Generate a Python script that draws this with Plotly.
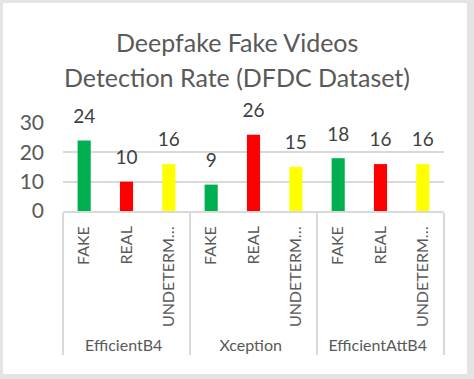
import plotly.graph_objects as go

models = ["EfficientB4", "Xception", "EfficientAttB4"]
classes = ["FAKE", "REAL", "UNDETERM…"]
fake_vals = [24, 9, 18]
real_vals = [10, 26, 16]
undet_vals = [16, 15, 16]
class_colors = ["#00B050", "#FF0000", "#FFFF00"]
y_ticks = [0, 10, 20, 30]
title_lines = ["Deepfake Fake Videos", "Detection Rate (DFDC Dataset)"]

x_outer, x_inner, vals, cols = [], [], [], []
for i, m in enumerate(models):
    for c, series, col in zip(classes, [fake_vals, real_vals, undet_vals], class_colors):
        x_outer.append(m)
        x_inner.append(c)
        vals.append(series[i])
        cols.append(col)

W, H = 474, 379
ml, mr, mt, mb = 63, 30, 123, 168
pw, ph = W - ml - mr, H - mt - mb

FONT = "Lato"
TXT = "#595959"

fig = go.Figure()
fig.add_trace(go.Bar(
    x=[x_outer, x_inner], y=vals, marker=dict(color=cols, line=dict(width=0)),
    width=0.31, hoverinfo="skip", showlegend=False,
))
fig.add_trace(go.Scatter(
    x=[x_outer, x_inner], y=vals, mode="markers+text",
    text=[str(v) for v in vals], textposition="top center",
    textfont=dict(family=FONT, size=19, color="#404040"),
    marker=dict(size=19, color="rgba(0,0,0,0)"),
    cliponaxis=False, hoverinfo="skip", showlegend=False,
))

def px_x(p):
    return (p - ml) / pw

def px_y(p):
    return (H - mb - p) / ph

shapes = [dict(type="rect", xref="paper", yref="paper", layer="below",
               x0=px_x(3), x1=px_x(467), y0=px_y(374), y1=px_y(3),
               fillcolor="white", line=dict(width=0))]

annotations = [
    dict(text=title_lines[0], xref="paper", yref="paper", x=px_x(237), y=px_y(42),
         showarrow=False, font=dict(family=FONT, size=25, color=TXT), xanchor="center", yanchor="middle"),
    dict(text=title_lines[1], xref="paper", yref="paper", x=px_x(237), y=px_y(77),
         showarrow=False, font=dict(family=FONT, size=25, color=TXT), xanchor="center", yanchor="middle"),
]

fig.update_layout(
    width=W, height=H, margin=dict(l=ml, r=mr, t=mt, b=mb, autoexpand=False),
    paper_bgcolor="#e4e4e4", plot_bgcolor="rgba(0,0,0,0)",
    shapes=shapes, annotations=annotations, bargap=0.69,
    font=dict(family=FONT, color=TXT),
)
fig.update_xaxes(
    type="multicategory", range=[-0.5, len(vals) - 0.5], tickangle=-90,
    showline=True, linecolor="#d9d9d9", linewidth=1.5, ticklabelstandoff=7,
    showdividers=True, dividercolor="#d9d9d9", dividerwidth=2, automargin=False,
    tickfont=dict(family=FONT, size=16, color=TXT), showgrid=False, ticks="",
)
fig.update_yaxes(
    range=[0, 30], tickvals=y_ticks, showgrid=True, gridcolor="#d9d9d9", gridwidth=1.5,
    zeroline=False, showline=False, ticks="", ticklabelstandoff=18, automargin=False,
    tickfont=dict(family=FONT, size=21, color=TXT),
)

fig.write_html("out.html", config={"displayModeBar": False},
               post_script="document.body.style.margin='0';")
